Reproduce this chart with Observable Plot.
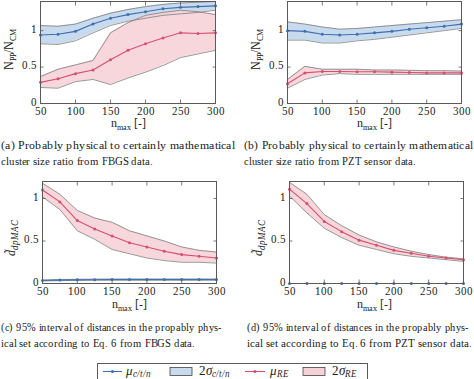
<!DOCTYPE html>
<html><head><meta charset="utf-8">
<script src="https://cdn.jsdelivr.net/npm/d3@7"></script>
<script src="https://cdn.jsdelivr.net/npm/@observablehq/plot@0.6"></script>
<style>
@font-face{font-family:"CapSerif";src:local("Liberation Serif"),local("LiberationSerif"),local("LiberationSerif-Regular"),local("DejaVu Serif"),local("DejaVuSerif");font-style:normal;}
@font-face{font-family:"CapSerif";src:local("Liberation Serif Italic"),local("LiberationSerif-Italic"),local("DejaVu Serif Italic"),local("DejaVuSerif-Italic");font-style:italic;}
body{margin:0;background:#fff;}
#root{position:relative;width:474px;height:379px;overflow:hidden;font-family:"CapSerif","Liberation Serif","Times New Roman","DejaVu Serif",serif;}
#root > svg{position:absolute;}
</style></head><body><div id="root"></div>
<script>
const nmax = [50,75,100,125,150,175,200,225,250,275,300];
const xTicks = [50,100,150,200,250,300];
const yTicks = [0,0.5,1];

// (a) FBGS ratio
const aBlueMean = [0.94,0.95,0.99,1.09,1.17,1.22,1.26,1.30,1.32,1.33,1.34];
const aBlueLow  = [0.82,0.81,0.86,0.97,1.07,1.13,1.17,1.21,1.23,1.25,1.28];
const aBlueHigh = [1.07,1.06,1.09,1.17,1.24,1.29,1.33,1.36,1.38,1.39,1.40];
const aRedMean  = [0.29,0.34,0.41,0.46,0.60,0.73,0.82,0.90,0.97,0.96,0.97];
const aRedLow   = [0.22,0.21,0.30,0.33,0.26,0.35,0.43,0.52,0.63,0.68,0.73];
const aRedHigh  = [0.37,0.47,0.53,0.59,0.97,1.11,1.21,1.25,1.28,1.26,1.22];

// (b) PZT ratio
const bBlueMean = [1.00,0.99,0.95,0.94,0.95,0.97,0.99,1.02,1.04,1.06,1.09];
const bBlueLow  = [0.87,0.87,0.83,0.83,0.86,0.88,0.91,0.94,0.97,1.00,1.03];
const bBlueHigh = [1.12,1.09,1.05,1.02,1.03,1.05,1.07,1.09,1.11,1.13,1.15];
const bRedMean  = [0.27,0.42,0.44,0.44,0.435,0.435,0.43,0.425,0.42,0.42,0.42];
const bRedLow   = [0.21,0.33,0.39,0.41,0.40,0.40,0.40,0.40,0.40,0.40,0.40];
const bRedHigh  = [0.33,0.51,0.47,0.47,0.47,0.46,0.46,0.455,0.45,0.45,0.445];

// (c) FBGS distances
const cBlueMean = [0.035,0.040,0.043,0.045,0.046,0.046,0.046,0.046,0.046,0.046,0.046];
const cBlueLow  = [0.030,0.034,0.037,0.039,0.040,0.040,0.040,0.040,0.040,0.040,0.040];
const cBlueHigh = [0.040,0.046,0.049,0.051,0.052,0.052,0.052,0.052,0.052,0.052,0.052];
const cRedMean  = [1.10,0.96,0.74,0.64,0.56,0.48,0.43,0.38,0.34,0.32,0.30];
const cRedLow   = [1.02,0.87,0.62,0.52,0.40,0.35,0.30,0.27,0.25,0.25,0.24];
const cRedHigh  = [1.18,1.05,0.86,0.77,0.72,0.62,0.56,0.50,0.43,0.39,0.37];

// (d) PZT distances
const dBlueMean = [0,0,0,0,0,0,0,0,0,0,0];
const dBlueLow  = [0,0,0,0,0,0,0,0,0,0,0];
const dBlueHigh = [0,0,0,0,0,0,0,0,0,0,0];
const dRedMean  = [1.11,0.94,0.73,0.61,0.51,0.45,0.39,0.355,0.32,0.30,0.28];
const dRedLow   = [1.03,0.83,0.65,0.54,0.45,0.40,0.35,0.32,0.30,0.28,0.26];
const dRedHigh  = [1.19,1.05,0.81,0.68,0.57,0.49,0.43,0.38,0.34,0.31,0.29];

const BLUE = "#3f6fae", BLUEFILL = "#c8dbee", RED = "#d4506f", REDFILL = "#f6d2d8";
const EDGE = "#7d7d7d", FRAME = "#5a5a5a";
const FONT = "CapSerif, 'Liberation Serif', 'Times New Roman', 'DejaVu Serif', serif";

function rows(bm, bl, bh, rm, rl, rh) {
  return nmax.map((n, i) => ({n, bm: bm[i], bl: bl[i], bh: bh[i], rm: rm[i], rl: rl[i], rh: rh[i]}));
}

function panel(data, o) {
  const tick = {tickSize: -3.5, tickFormat: () => "", stroke: FRAME, strokeOpacity: 0.8, label: null};
  const svg = Plot.plot({
    width: o.width, height: o.height,
    marginLeft: o.ml, marginRight: o.mr, marginTop: o.mt, marginBottom: o.mb,
    x: {domain: [50, 300], label: null},
    y: {domain: [0, o.ymax], label: null},
    style: {fontFamily: FONT, fontSize: "11px", color: "#222", background: "transparent"},
    marks: [
      Plot.areaY(data, {x: "n", y1: "bl", y2: "bh", fill: BLUEFILL, clip: true}),
      Plot.areaY(data, {x: "n", y1: "rl", y2: "rh", fill: REDFILL, fillOpacity: 0.9, clip: true}),
      Plot.lineY(data, {x: "n", y: "bl", stroke: EDGE, strokeWidth: 0.8, clip: true}),
      Plot.lineY(data, {x: "n", y: "bh", stroke: EDGE, strokeWidth: 0.8, clip: true}),
      Plot.lineY(data, {x: "n", y: "rl", stroke: EDGE, strokeWidth: 0.8, clip: true}),
      Plot.lineY(data, {x: "n", y: "rh", stroke: EDGE, strokeWidth: 0.8, clip: true}),
      Plot.lineY(data, {x: "n", y: "bm", stroke: BLUE, strokeWidth: 1.1}),
      Plot.dot(data, {x: "n", y: "bm", r: 1.5, fill: BLUE}),
      Plot.lineY(data, {x: "n", y: "rm", stroke: RED, strokeWidth: 1.1}),
      Plot.dot(data, {x: "n", y: "rm", r: 1.5, fill: RED}),
      Plot.frame({stroke: FRAME, strokeWidth: 1}),
      Plot.axisX(xTicks, {anchor: "bottom", ...tick}),
      Plot.axisX(xTicks, {anchor: "top", ...tick}),
      Plot.axisY(yTicks, {anchor: "left", ...tick}),
      Plot.axisY(yTicks, {anchor: "right", ...tick}),
      Plot.axisX(xTicks, {anchor: "bottom", tickSize: 0, tickPadding: 4, tickFormat: d => String(d), fontSize: 10.5, label: null}),
      Plot.axisY(yTicks, {anchor: "left", tickSize: 0, tickPadding: 4, tickFormat: d => String(d), fontSize: 10.5, label: null, dy: -1})
    ]
  });
  svg.style.left = o.left + "px";
  svg.style.top = o.top + "px";
  return svg;
}

const root = document.getElementById("root");
root.appendChild(panel(rows(aBlueMean, aBlueLow, aBlueHigh, aRedMean, aRedLow, aRedHigh),
  {left: 0, top: 0, width: 237, height: 120, ml: 40, mr: 22, mt: 1, mb: 17, ymax: 1.4}));
root.appendChild(panel(rows(bBlueMean, bBlueLow, bBlueHigh, bRedMean, bRedLow, bRedHigh),
  {left: 237, top: 0, width: 237, height: 120, ml: 50, mr: 13, mt: 1, mb: 17, ymax: 1.4}));
root.appendChild(panel(rows(cBlueMean, cBlueLow, cBlueHigh, cRedMean, cRedLow, cRedHigh),
  {left: 0, top: 170, width: 237, height: 130, ml: 42, mr: 21, mt: 11, mb: 17, ymax: 1.2}));
root.appendChild(panel(rows(dBlueMean, dBlueLow, dBlueHigh, dRedMean, dRedLow, dRedHigh),
  {left: 237, top: 170, width: 237, height: 130, ml: 52, mr: 11, mt: 11, mb: 17, ymax: 1.2}));

// overlay text
const ov = d3.select(root).append("svg")
  .attr("width", 474).attr("height", 379)
  .style("left", "0px").style("top", "0px")
  .style("font-family", FONT).attr("fill", "#222");

function rich(x, y, parts, {anchor = "middle", rotate = 0, size = 11, shift = 0.28} = {}) {
  const t = ov.append("text").attr("x", x).attr("y", y).attr("text-anchor", anchor)
    .attr("font-size", size).style("font-family", FONT);
  if (rotate) t.attr("transform", `rotate(${rotate},${x},${y})`);
  let shifted = 0;
  parts.forEach(p => {
    const [txt, kind, italic] = p;
    const ts = t.append("tspan").text(txt);
    if (italic) ts.attr("font-style", "italic");
    if (kind === "sub") {
      ts.attr("font-size", size * 0.72);
      if (!shifted) { ts.attr("dy", size * shift); shifted = 1; }
    } else if (shifted) { ts.attr("dy", -size * shift); shifted = 0; }
  });
  return t;
}

// y labels
const ratioLabel = [["N"], ["PP", "sub"], ["/N"], ["CM", "sub"]];
rich(13, 49, ratioLabel, {rotate: -90, size: 11.5});
rich(260, 49, ratioLabel, {rotate: -90, size: 11.5});
const dLabel = [["d\u0303", null, true], ["dpMAC", "sub", true]];
rich(15, 238, dLabel, {rotate: -90, size: 12});
rich(262, 238, dLabel, {rotate: -90, size: 12});

// x labels
const xLab = [["n"], ["max", "sub"], [" [-]"]];
rich(128, 127, xLab, {size: 11.5});
rich(374, 127, xLab, {size: 11.5});
rich(129, 308, xLab, {size: 11.5});
rich(374, 308, xLab, {size: 11.5});

// captions
function cap(x, y, txt, len) {
  ov.append("text").attr("x", x).attr("y", y).attr("font-size", 11).style("font-family", FONT)
    .attr("textLength", len).attr("lengthAdjust", "spacingAndGlyphs").text(txt);
}
cap(1, 148.5, "(a) Probably physical to certainly mathematical", 234);
cap(1, 164.5, "cluster size ratio from FBGS data.", 152);
cap(244, 148.5, "(b) Probably physical to certainly mathematical", 229);
cap(244, 164.5, "cluster size ratio from PZT sensor data.", 172);
cap(1, 331, "(c) 95% interval of distances in the propably phys-", 221);
cap(1, 346.5, "ical set according to Eq. 6 from FBGS data.", 194);
cap(247, 331, "(d) 95% interval of distances in the propably phys-", 222);
cap(247, 346.5, "ical set according to Eq. 6 from PZT sensor data.", 225);

// legend
ov.append("rect").attr("x", 97.5).attr("y", 363.5).attr("width", 270).attr("height", 22)
  .attr("fill", "#fff").attr("stroke", FRAME).attr("stroke-width", 1);
const ly = 371.5;
function legLine(x0, x1, c) {
  ov.append("line").attr("x1", x0).attr("x2", x1).attr("y1", ly).attr("y2", ly).attr("stroke", c).attr("stroke-width", 1.1);
  ov.append("circle").attr("cx", (x0 + x1) / 2).attr("cy", ly).attr("r", 1.6).attr("fill", c);
}
function legBox(x0, x1, f) {
  ov.append("rect").attr("x", x0).attr("y", ly - 4).attr("width", x1 - x0).attr("height", 8)
    .attr("fill", f).attr("stroke", "#444").attr("stroke-width", 0.8);
}
const lopt = {anchor: "start", size: 12.5, shift: 0.18};
legLine(103, 122, BLUE);
rich(126, ly + 3, [["μ", null, true], ["c/t/n", "sub", true]], lopt);
legBox(170, 192, BLUEFILL);
rich(199, ly + 3, [["2"], ["σ", null, true], ["c/t/n", "sub", true]], lopt);
legLine(245, 265, RED);
rich(270, ly + 3, [["μ", null, true], ["RE", "sub", true]], lopt);
legBox(303, 325, REDFILL);
rich(332, ly + 3, [["2"], ["σ", null, true], ["RE", "sub", true]], lopt);
</script></body></html>
